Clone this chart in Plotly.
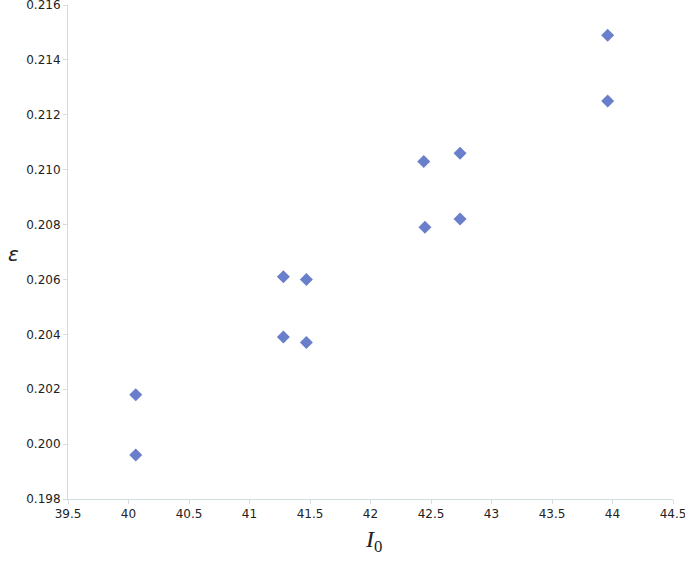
import plotly.graph_objects as go

x_vals = [40.06, 40.06, 41.28, 41.28, 41.47, 41.47, 42.44, 42.45, 42.74, 42.74, 43.96, 43.96]
y_vals = [0.2018, 0.1996, 0.2061, 0.2039, 0.2060, 0.2037, 0.2103, 0.2079, 0.2106, 0.2082, 0.2149, 0.2125]
x_ticks = [39.5, 40, 40.5, 41, 41.5, 42, 42.5, 43, 43.5, 44, 44.5]
x_tick_labels = ["39.5", "40", "40.5", "41", "41.5", "42", "42.5", "43", "43.5", "44", "44.5"]
y_ticks = [0.198, 0.200, 0.202, 0.204, 0.206, 0.208, 0.210, 0.212, 0.214, 0.216]
y_tick_labels = ["0.198", "0.200", "0.202", "0.204", "0.206", "0.208", "0.210", "0.212", "0.214", "0.216"]

fig = go.Figure()
fig.add_trace(go.Scatter(
    x=x_vals, y=y_vals, mode="markers",
    marker=dict(symbol="diamond", size=10, color="#6a7fcb", line=dict(width=0)),
    showlegend=False,
))

axis_color = "#d3dcdf"
fig.update_layout(
    width=685, height=561,
    margin=dict(l=68, r=12, t=5, b=62),
    paper_bgcolor="white", plot_bgcolor="white",
    font=dict(family="DejaVu Sans", size=12, color="#222222"),
    xaxis=dict(range=[39.5, 44.5], tickvals=x_ticks, ticktext=x_tick_labels,
               showgrid=False, zeroline=False, showline=True, linecolor=axis_color,
               linewidth=1, ticks="outside", ticklen=4, tickcolor=axis_color,
               tickfont=dict(size=12), automargin=False, ticklabeloverflow="allow"),
    yaxis=dict(range=[0.198, 0.216], tickvals=y_ticks, ticktext=y_tick_labels,
               showgrid=False, zeroline=False, showline=True, linecolor=axis_color,
               linewidth=1, ticks="outside", ticklen=4, tickcolor=axis_color,
               tickfont=dict(size=12), automargin=False, ticklabeloverflow="allow"),
    annotations=[
        dict(text="<i>ε</i>", xref="paper", yref="paper", x=-0.1025, y=0.495,
             xanchor="left", yanchor="middle", showarrow=False,
             font=dict(family="DejaVu Sans", size=20, color="#222222")),
        dict(text="<i>I</i><sub>0</sub>", xref="paper", yref="paper", x=0.505, y=-0.085,
             xanchor="center", yanchor="middle", showarrow=False,
             font=dict(family="Liberation Serif", size=24, color="#222222")),
    ],
)

fig.write_html("out.html", config={"displayModeBar": False},
               post_script="document.body.style.margin='0';document.body.style.overflow='hidden';")
